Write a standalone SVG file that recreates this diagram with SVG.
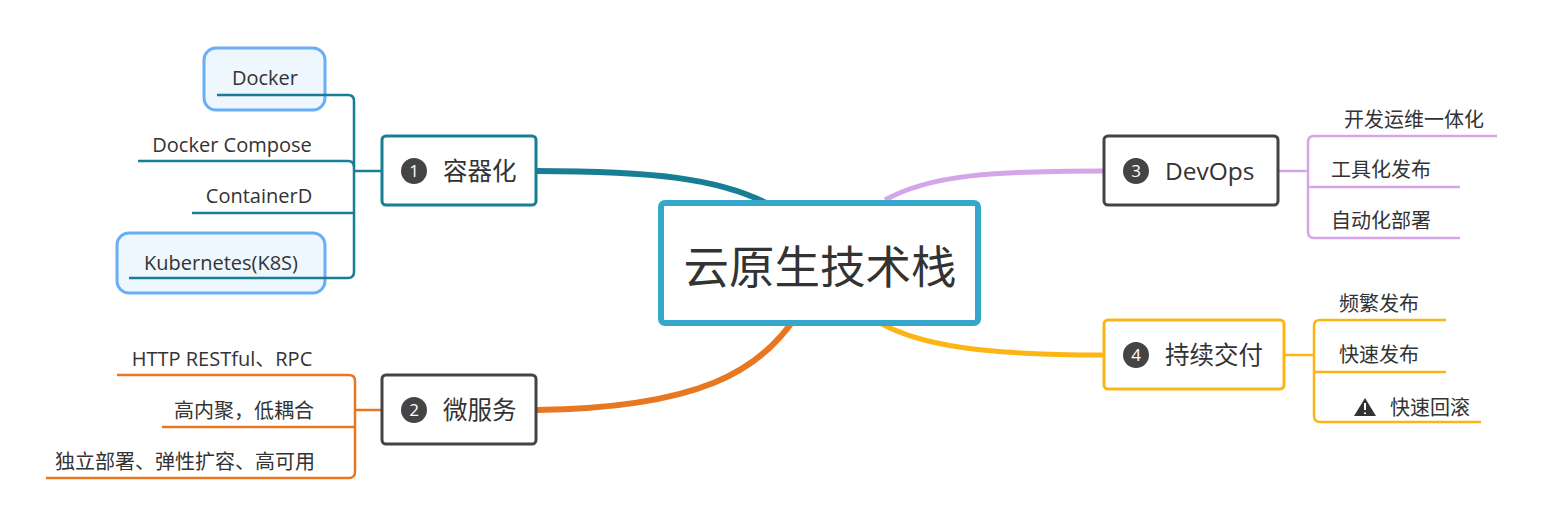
<svg xmlns="http://www.w3.org/2000/svg" width="1541" height="525" viewBox="0 0 1541 525">
<style>
text{font-family:"Open Sans","Noto Sans CJK SC",sans-serif;fill:#333}
.t{font-size:20px;text-anchor:middle}
.n{font-size:24.5px}
.num{font-size:17px;fill:#fff;text-anchor:middle}
.box{fill:#fff;stroke-width:3}
.sel{fill:#eef6fe;stroke:#6aaef5;stroke-width:3}
.ln{fill:none;stroke-width:2.5}
</style>
<rect width="1541" height="525" fill="#fff"/>
<g id="selections">
<rect class="sel" x="204" y="48" width="121" height="62" rx="12"/>
<rect class="sel" x="117" y="233" width="208" height="60" rx="12"/>
</g>
<g id="connectors" fill="none">
<path d="M536,171 C650,171 720,178 770,205" stroke="#177e94" stroke-width="6"/>
<path d="M536,410 C700,408 760,370 795,318" stroke="#e87722" stroke-width="6"/>
<path d="M1104,171 C990,171 930,175 885,200" stroke="#d4a5e8" stroke-width="5"/>
<path d="M1104,355 C980,355 920,345 880,323" stroke="#fbb514" stroke-width="5"/>
<g class="ln" stroke="#177e94">
<path d="M217,95 H348 Q354,95 354,101 V272 Q354,278 348,278 H129"/>
<path d="M138,161 H348 Q354,161 354,167"/><path d="M192,213 H354"/><path d="M354,171 H382"/>
</g>
<g class="ln" stroke="#e87722">
<path d="M117,375 H349 Q355,375 355,381 V472 Q355,478 349,478 H46"/>
<path d="M162,427 H355"/><path d="M355,410 H382"/>
</g>
<g class="ln" stroke="#d4a5e8">
<path d="M1497,136 H1314 Q1308,136 1308,142 V232 Q1308,238 1314,238 H1460"/>
<path d="M1308,187 H1460"/><path d="M1278,171 H1308"/>
</g>
<g class="ln" stroke="#fbb514">
<path d="M1446,320 H1320 Q1314,320 1314,326 V416 Q1314,422 1320,422 H1481"/>
<path d="M1314,372 H1446"/><path d="M1284,355 H1314"/>
</g>
</g>
<g id="center">
<rect x="661" y="203" width="317" height="120" rx="4" fill="#fff" stroke="#35a7cc" stroke-width="6"/>
<text x="820" y="284" font-size="45.5" text-anchor="middle">云原生技术栈</text>
</g>
<g id="n1">
<rect class="box" x="382" y="136" width="154" height="69" rx="4" stroke="#177e94"/>
<circle cx="414" cy="171" r="13" fill="#444"/><text class="num" x="414" y="177">1</text>
<text class="n" x="443" y="180">容器化</text>
</g>
<g id="n1c">
<text class="t" x="265" y="85">Docker</text>
<text class="t" x="232" y="152">Docker Compose</text>
<text class="t" x="259" y="203">ContainerD</text>
<text class="t" x="221" y="270">Kubernetes(K8S)</text>
</g>
<g id="n2">
<rect class="box" x="382" y="375" width="154" height="69" rx="4" stroke="#444"/>
<circle cx="414" cy="410" r="13" fill="#444"/><text class="num" x="414" y="416">2</text>
<text class="n" x="443" y="419">微服务</text>
<text class="t" x="222" y="366">HTTP RESTful、RPC</text>
<text class="t" x="244" y="418">高内聚，低耦合</text>
<text class="t" x="185" y="469">独立部署、弹性扩容、高可用</text>
</g>
<g id="n3">
<rect class="box" x="1104" y="136" width="174" height="69" rx="4" stroke="#444"/>
<circle cx="1136" cy="171" r="13" fill="#444"/><text class="num" x="1136" y="177">3</text>
<text class="n" x="1165" y="180">DevOps</text>
<text class="t" x="1414" y="127">开发运维一体化</text>
<text class="t" x="1381" y="177">工具化发布</text>
<text class="t" x="1381" y="228">自动化部署</text>
</g>
<g id="n4">
<rect class="box" x="1104" y="320" width="180" height="69" rx="4" stroke="#fbb514"/>
<circle cx="1136" cy="355" r="13" fill="#444"/><text class="num" x="1136" y="361">4</text>
<text class="n" x="1165" y="364">持续交付</text>
<text class="t" x="1379" y="311">频繁发布</text>
<text class="t" x="1379" y="362">快速发布</text>
<path d="M1365,398 L1376,416 H1354 Z" fill="#333"/>
<path d="M1365,403 V410 M1365,412.5 V414" stroke="#fff" stroke-width="2"/>
<text x="1390" y="415" font-size="20">快速回滚</text>
</g>
</svg>
